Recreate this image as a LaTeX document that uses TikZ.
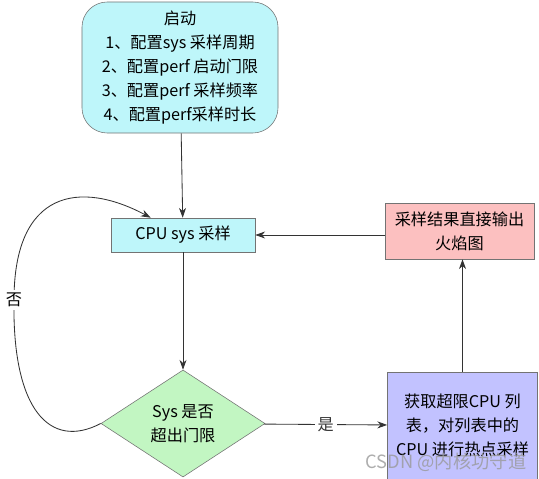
\documentclass[tikz,border=0pt]{standalone}
\usepackage{fontspec}
\setmainfont{Noto Sans CJK SC}
\usetikzlibrary{shapes.geometric, arrows.meta}

\definecolor{startcyan}{RGB}{190,246,250}
\definecolor{decgreen}{RGB}{194,246,194}
\definecolor{flamepink}{RGB}{252,192,192}
\definecolor{hotblue}{RGB}{194,194,255}

\begin{document}
\begin{tikzpicture}[x=0.025cm, y=-0.025cm,
    box/.style={rectangle, draw=black!55, inner sep=2pt, align=center, font=\fontsize{11.5}{17}\selectfont},
    lbl/.style={fill=white, inner sep=2pt, font=\fontsize{11.5}{13}\selectfont},
    arrow/.style={->, >={Stealth[length=7pt, width=5pt]}, black!80, line width=0.6pt}
]
\useasboundingbox (0,0) rectangle (539,479);

% Start block
\node[box, fill=startcyan, rounded corners=18pt, minimum width=4.9cm, minimum height=3.275cm] (start) at (180,67.5)
  {启动\\1、配置sys 采样周期\\2、配置perf 启动门限\\3、配置perf 采样频率\\4、配置perf采样时长};

% Sampling loop
\node[box, fill=startcyan, minimum width=3.6cm, minimum height=0.85cm] (cpu) at (183,235) {CPU sys 采样};
\node[box, diamond, fill=decgreen, inner sep=0pt, minimum width=4.1cm, minimum height=2.675cm] (dec) at (183,423.5) {Sys 是否\\超出门限};

% Right column
\node[box, fill=hotblue, minimum width=3.75cm, minimum height=2.675cm] (hot) at (462.5,425.5)
  {获取超限CPU 列\\表，对列表中的\\CPU 进行热点采样};
\node[box, fill=flamepink, minimum width=3.725cm, minimum height=1.4cm] (flame) at (459.5,231)
  {采样结果直接输出\\火焰图};

% Arrows
\draw[arrow] (start) -- (cpu);
\draw[arrow] (cpu) -- (dec);
\draw[arrow] (dec) -- node[lbl] (yes) {是} (hot);
\draw[arrow] (hot.north) -- (flame.south -| hot.north);
\draw[arrow] (flame.west |- cpu.east) -- (cpu.east);
\draw[arrow] (dec.west) .. controls (50,450) and (12,410) .. (14,300)
  .. controls (14,190) and (80,180) .. ([xshift=1cm]cpu.north west);
\node[lbl] (no) at (14,300) {否};

% Watermark
\node[text=black!40, opacity=0.8, font=\fontsize{13}{15}\selectfont] (mark) at (446,462) {CSDN @内核功守道};
\end{tikzpicture}
\end{document}
